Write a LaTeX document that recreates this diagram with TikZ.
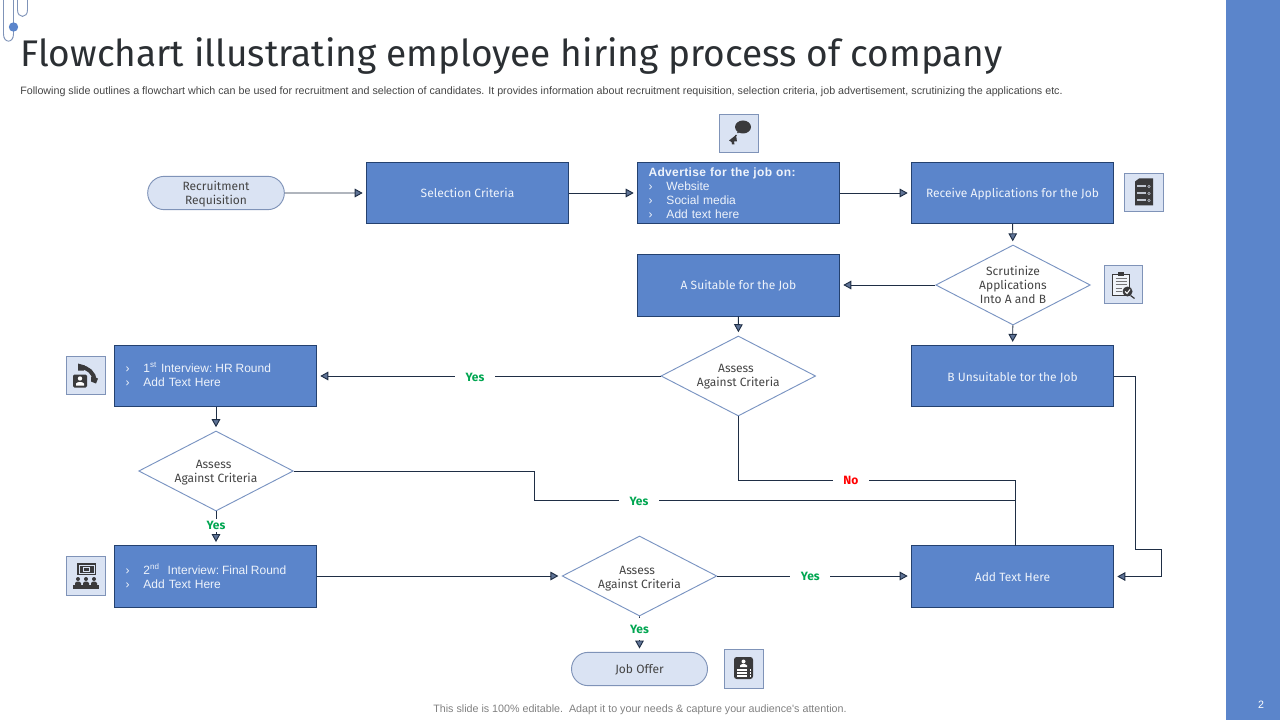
\documentclass[tikz,border=0pt]{standalone}
\usepackage{fontspec}
\setmainfont{Fira Sans}
\newfontfamily\arialf{Liberation Sans}
\usetikzlibrary{shapes.geometric,shapes.misc,arrows.meta}
\definecolor{bandblue}{HTML}{5B85CB}
\definecolor{boxline}{HTML}{24416F}
\definecolor{paleblue}{HTML}{DAE3F3}
\definecolor{paleline}{HTML}{7F93B8}
\definecolor{diamline}{HTML}{7A94C2}
\definecolor{inkdark}{HTML}{3A3A3C}
\definecolor{titleink}{HTML}{2B2F33}
\definecolor{bodyink}{HTML}{444444}
\definecolor{conn}{HTML}{1F2E45}
\definecolor{tipfill}{HTML}{5F7396}
\definecolor{yesgreen}{HTML}{00A651}
\definecolor{boxtext}{HTML}{EEF3FB}
\newcommand{\bul}[1]{\makebox[13.5pt][l]{›}#1}
\newcommand{\lowr}[1]{\rule{0pt}{#1pt}}
\tikzset{
  bluebox/.style={draw=boxline,line width=0.7pt,fill=bandblue,text=boxtext,minimum width=151.5pt,minimum height=45.5pt,inner sep=0pt,font=\fontsize{9}{10.5}\selectfont,align=center},
  listbox/.style={bluebox,text width=135pt,inner xsep=8pt,align=left,font=\arialf\fontsize{9}{10.5}\selectfont},
  pill/.style={rounded rectangle,draw=paleline,line width=0.7pt,fill=paleblue,text=bodyink,minimum height=25pt,inner sep=0pt,font=\fontsize{9}{10.5}\selectfont,align=center},
  decision/.style={diamond,aspect=1.925,draw=diamline,line width=0.7pt,fill=white,text=bodyink,minimum width=116pt,minimum height=60pt,inner sep=0pt,font=\fontsize{9}{10.5}\selectfont,align=center},
  iconbox/.style={draw=paleline,line width=0.7pt,fill=paleblue,minimum width=29pt,minimum height=29pt,inner sep=0pt},
  link/.style={draw=conn,line width=0.7pt,-{Triangle[length=6pt,width=6.5pt,fill=tipfill]},shorten >=2.5pt},
  flag/.style={fill=white,font=\bfseries\fontsize{9}{10}\selectfont,inner xsep=8pt,inner ysep=1.5pt},
  yesflag/.style={flag,text=yesgreen},
  noflag/.style={flag,text=red},
}
\begin{document}
\begin{tikzpicture}[x=0.75pt,y=-0.75pt]
\useasboundingbox (0,0) rectangle (1280,720);
\fill[bandblue] (1226,0) rectangle (1280,720);
\node[text=white,font=\arialf\fontsize{8}{10}\selectfont] (pageno) at (1261,705) {2};
% clips
\draw[paleline,line width=0.7pt] (3.5,0) -- (3.5,34) .. controls (3.5,43.5) and (13.5,43.5) .. (13.5,34) -- (13.5,0);
\draw[paleline,line width=0.7pt] (17.5,0) -- (17.5,10) .. controls (17.5,18.5) and (27.5,18.5) .. (27.5,10) -- (27.5,0);
\fill[bandblue] (13.5,27) circle[radius=4.7];
% titles
\node[anchor=west,inner sep=0pt,text=titleink,font=\fontsize{27.8}{32}\selectfont] (title) at (20,56) {Flowchart illustrating employee hiring process of company};
\node[anchor=west,inner sep=0pt,text=bodyink,font=\arialf\fontsize{8.03}{9}\selectfont] (sub) at (20,92) {Following slide outlines a flowchart which can be used for recruitment and selection of candidates. It provides information about recruitment requisition, selection criteria, job advertisement, scrutinizing the applications etc.};
\node[text=gray,inner sep=0pt,font=\arialf\fontsize{8.03}{9}\selectfont] (foot) at (640,710) {This slide is 100\% editable.\ \ Adapt it to your needs \& capture your audience's attention.};
% nodes
\node[pill,minimum width=102.5pt] (rr) at (216,193) {\lowr{9}Recruitment\\Requisition};
\node[bluebox] (sel) at (467.5,193) {Selection Criteria};
\node[listbox] (adv) at (738.5,193) {{\bfseries\addfontfeature{LetterSpace=3}Advertise for the job on:}\\\bul{Website}\\\bul{Social media}\\\bul{Add text here}};
\node[bluebox] (rec) at (1012.5,193) {\lowr{8.5}Receive Applications for the Job};
\node[decision] (scrut) at (1013,285) {Scrutinize\\Applications\\Into A and B};
\node[bluebox,minimum height=46.5pt] (suit) at (738.5,285) {\lowr{8.5}A Suitable for the Job};
\node[decision] (as1) at (738.3,376) {\lowr{7.5}Assess\hspace*{3.5pt}\\Against Criteria};
\node[bluebox] (unsuit) at (1012.5,376) {\lowr{10}B Unsuitable tor the Job};
\node[listbox] (int1) at (215.5,376) {\bul{1\textsuperscript{st} Interview:\hspace{2.2pt}HR\hspace{2.2pt}Round}\\\bul{Add Text Here\rule[-3pt]{0pt}{3pt}}};
\node[decision] (as2) at (216,471) {\lowr{9}Assess\hspace*{3.5pt}\\Against Criteria};
\node[listbox,minimum height=46pt] (int2) at (215.5,576.5) {\bul{2\textsuperscript{nd}\ \ Interview:\hspace{2.2pt}Final\hspace{2.2pt}Round}\\\bul{Add Text Here}};
\node[decision] (as3) at (639.5,576) {\lowr{10.5}Assess\hspace*{3.5pt}\\Against Criteria};
\node[bluebox,minimum height=46pt] (addt) at (1012.5,576.5) {\lowr{7.5}Add Text Here};
\node[pill,minimum width=102pt] (job) at (639.5,669) {\lowr{8.5}Job Offer};
% way points
\coordinate (w1) at (534,471);
\coordinate (w2) at (534,500);
\coordinate (w3) at (1015.7,500);
\coordinate (w4) at (1015.7,546);
\coordinate (w5) at (738.7,480);
\coordinate (w6) at (1015.7,480);
\coordinate (w7) at (1135,376);
\coordinate (w8) at (1135,549);
\coordinate (w9) at (1161,549);
\coordinate (w10) at (1161,576.5);
\coordinate (as1s) at (738.7,416);
% connectors
\draw[link] (rr) -- (sel);
\draw[link] (sel) -- (adv);
\draw[link] (adv) -- (rec);
\draw[link] (rec) -- (scrut);
\draw[link] (scrut) -- (suit);
\draw[link] (scrut) -- (unsuit);
\draw[link] (suit) -- (as1);
\draw[link] (as1) -- node[yesflag,pos=0.54,yshift=-1pt] (y1) {Yes} (int1);
\draw[link] (as2.north |- int1.south) -- (as2.north);
\draw[link] (as2.south) -- node[yesflag,pos=0.41,inner xsep=2pt] (y2) {Yes} (as2.south |- int2.north);
\draw[conn,line width=0.7pt] (as2.east) -- (w1) -- (w2) -- node[yesflag,pos=0.218,yshift=-1pt] (y3) {Yes} (w3) -- (w4);
\draw[conn,line width=0.7pt] (as1s) -- (w5) -- node[noflag,pos=0.405] (n1) {No} (w6) -- (w4);
\draw[link] (int2.east |- as3.west) -- (as3.west);
\draw[link] (as3.east) -- node[yesflag,pos=0.48,yshift=-0.7pt] (y4) {Yes} (as3.east -| addt.west);
\draw[link] (as3) -- node[yesflag,pos=0.36,inner xsep=2pt,inner ysep=5pt] (y5) {Yes} (job);
\draw[link] (unsuit.east) -- (w7) -- (w8) -- (w9) -- (w10) -- (addt.east);
% icon boxes
\node[iconbox] (i1) at (739,133.5) {};
\node[iconbox] (i2) at (1144,192.5) {};
\node[iconbox] (i3) at (1123.5,284.5) {};
\node[iconbox] (i4) at (86,375.5) {};
\node[iconbox] (i5) at (86,576) {};
\node[iconbox] (i6) at (744,669) {};
% speech + megaphone
\begin{scope}[shift={(i1.center)}]
\fill[inkdark] (4,-6.5) ellipse[x radius=8,y radius=6.5];
\fill[inkdark] (-1,-1) circle[radius=0.9];
\fill[inkdark] (-3,2) circle[radius=0.8];
\fill[inkdark] (-10,7) -- (-3,1.5) -- (-2,8) -- (-5,8) -- (-4.5,11) -- (-7,11) -- (-7.5,8.5) -- cycle;
\end{scope}
% server
\begin{scope}[shift={(i2.center)}]
\fill[inkdark] (-9,-11) -- (-5,-14) -- (9,-14) -- (9,13) -- (-9,13) -- cycle;
\foreach \yy in {-6,1,8} {
  \fill[paleblue!70!gray] (-7,\yy-1) rectangle (2,\yy+1);
  \draw[paleblue!70!gray,line width=0.4pt] (5,\yy) circle[radius=1.3];
}
\end{scope}
% clipboard
\begin{scope}[shift={(i3.center)}]
\draw[inkdark,line width=0.9pt,fill=paleblue!40!white] (-11,-10) rectangle (6,11);
\fill[inkdark] (-6,-13) rectangle (0,-9);
\foreach \yy in {-6,-3,0} \draw[inkdark!70,line width=0.7pt] (-8,\yy) -- (3,\yy);
\foreach \yy in {4,7} \draw[inkdark!70,line width=0.7pt] (-8,\yy) -- (-2,\yy);
\draw[inkdark,line width=0.9pt] (7,11) -- (11,14);
\fill[inkdark] (4,7) circle[radius=5];
\draw[white,line width=0.8pt] (1.5,7) -- (3.5,9) -- (6.5,5);
\end{scope}
% phone
\begin{scope}[shift={(i4.center)}]
\draw[inkdark,line width=3pt] (-6,-8) .. controls (2,-9) and (8,-2) .. (9,5);
\fill[inkdark] (-8,-12) -- (-1,-10) -- (-2,-5) -- (-8,-5) -- cycle;
\fill[inkdark] (5,1) -- (12,3) -- (10,8) -- (5,6) -- cycle;
\fill[inkdark,rounded corners=1pt] (-13,-1) rectangle (1,12);
\fill[white] (-6,3) circle[radius=2.2];
\fill[white] (-10,10) -- (-10,8) .. controls (-9,6) and (-3,6) .. (-2,8) -- (-2,10) -- cycle;
\end{scope}
% monitor + people
\begin{scope}[shift={(i5.center)}]
\fill[inkdark] (-9,-13) rectangle (10,-1);
\draw[paleblue,line width=0.5pt] (-7,-11) rectangle (8,-3);
\draw[paleblue,line width=0.5pt] (-3,-9) rectangle (3,-5);
\foreach \xx in {-8,0,8} {
  \fill[inkdark] (\xx,3) circle[radius=2];
  \fill[inkdark] (\xx-3,9) -- (\xx-3,7) .. controls (\xx-2,5) and (\xx+2,5) .. (\xx+3,7) -- (\xx+3,9) -- cycle;
}
\fill[inkdark] (-13,9) rectangle (13,13);
\end{scope}
% document
\begin{scope}[shift={(i6.center)}]
\fill[inkdark,rounded corners=2pt] (-10,-12) rectangle (9,10);
\fill[white] (-0.5,-7.5) circle[radius=2];
\fill[white] (-4,-2) -- (-4,-3.5) .. controls (-3,-5.5) and (2,-5.5) .. (3,-3.5) -- (3,-2) -- cycle;
\foreach \yy in {1,4,7} {
  \draw[white,line width=0.8pt] (-7,\yy) -- (3,\yy);
  \fill[white] (5.5,\yy-0.7) rectangle (7,\yy+0.7);
}
\end{scope}
\end{tikzpicture}
\end{document}
